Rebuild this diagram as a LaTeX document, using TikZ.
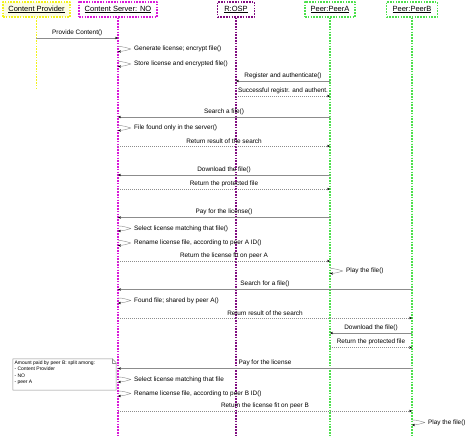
\documentclass[tikz,border=0pt]{standalone}
\usepackage{fontspec}
\setmainfont{Liberation Sans}
\usetikzlibrary{arrows.meta}
\definecolor{cpyellow}{rgb}{0.95,0.95,0.1}
\definecolor{csmagenta}{rgb}{0.85,0.1,0.85}
\definecolor{rospurple}{rgb}{0.5,0.05,0.5}
\definecolor{peergreen}{rgb}{0.3,0.88,0.3}
\definecolor{msggray}{rgb}{0.55,0.55,0.55}

\tikzset{
	actor/.style={draw,line width=1.2pt,line cap=butt,dash pattern=on 1.6pt off 1.2pt,minimum height=15pt,inner sep=1pt,font=\fontsize{7.5}{8}\selectfont},
	lifeline/.style={line width=1.2pt,line cap=butt,dash pattern=on 1.6pt off 1.2pt},
	msg/.style={draw=msggray,line width=0.6pt,-{Stealth[length=3pt,width=2.4pt,black]}},
	ret/.style={msg,line cap=butt,dash pattern=on 1pt off 1pt},
	self/.style={msg,line width=0.4pt},
	lbl/.style={above,inner sep=2pt,font=\fontsize{6.4}{7}\selectfont,text=black},
	slbl/.style={right,inner sep=3pt,font=\fontsize{6.4}{7}\selectfont,text=black},
	notebox/.style={minimum width=103pt,minimum height=31pt,inner sep=0pt},
	notetext/.style={align=left,inner sep=1.5pt,font=\fontsize{5}{6.6}\selectfont}
}

\begin{document}
\begin{tikzpicture}[line cap=round,line join=round,x=1pt,y=-1pt]
	\useasboundingbox (0,0) rectangle (474,443);
	% participants
	\node[actor,draw=cpyellow,fill=cpyellow!12,minimum width=67pt] (cp) at (36.5,9.5) {\underline{Content Provider}};
	\node[actor,draw=csmagenta,minimum width=78pt] (cs) at (118,9.5) {\underline{Content Server: NO}};
	\node[actor,draw=rospurple,minimum width=37pt] (ros) at (236,9.5) {\underline{R:OSP}};
	\node[actor,draw=peergreen,minimum width=50pt] (pa) at (330,9.5) {\underline{Peer:PeerA}};
	\node[actor,draw=peergreen,minimum width=51pt] (pb) at (412,9.5) {\underline{Peer:PeerB}};
	% lifelines
	\draw[lifeline,cpyellow] (cp.south) -- (cp |- 0,88);
	\draw[lifeline,csmagenta] (cs.south) -- (cs |- 0,436);
	\draw[lifeline,rospurple] (ros.south) -- (ros |- 0,436);
	\draw[lifeline,peergreen] (pa.south) -- (pa |- 0,436);
	\draw[lifeline,peergreen] (pb.south) -- (pb |- 0,436);
	% publishing
	\draw[msg] (cp |- 0,38) -- (cs |- 0,38) node[lbl,midway] {Provide Content()};
	\draw[self] (cs |- 0,46.5) to[out=0,in=165] ++(13,2.5) node[slbl] {Generate license; encrypt file()} to[out=195,in=0] ++(-13,2.5);
	\draw[self] (cs |- 0,61.5) to[out=0,in=165] ++(13,2.5) node[slbl] {Store license and encrypted file()} to[out=195,in=0] ++(-13,2.5);
	\draw[msg] (pa |- 0,81) -- (ros |- 0,81) node[lbl,midway] {Register and authenticate()};
	\draw[ret] (ros |- 0,96) -- (pa |- 0,96) node[lbl,midway] {Successful registr. and authent.};
	% peer A buys from the server
	\draw[msg] (pa |- 0,117) -- (cs |- 0,117) node[lbl,midway] {Search a file()};
	\draw[self] (cs |- 0,125.5) to[out=0,in=165] ++(13,2.5) node[slbl] {File found only in the server()} to[out=195,in=0] ++(-13,2.5);
	\draw[ret] (cs |- 0,146) -- (pa |- 0,146) node[lbl,midway] {Return result of the search};
	\draw[msg] (pa |- 0,175) -- (cs |- 0,175) node[lbl,midway] {Download the file()};
	\draw[ret] (cs |- 0,189) -- (pa |- 0,189) node[lbl,midway] {Return the protected file};
	\draw[msg] (pa |- 0,217.5) -- (cs |- 0,217.5) node[lbl,midway] {Pay for the license()};
	\draw[self] (cs |- 0,226) to[out=0,in=165] ++(13,2.5) node[slbl] {Select license matching that file()} to[out=195,in=0] ++(-13,2.5);
	\draw[self] (cs |- 0,240.5) to[out=0,in=165] ++(13,2.5) node[slbl] {Rename license file, according to peer A ID()} to[out=195,in=0] ++(-13,2.5);
	\draw[ret] (cs |- 0,261) -- (pa |- 0,261) node[lbl,midway] {Return the license fit on peer A};
	\draw[self] (pa |- 0,268.5) to[out=0,in=165] ++(13,2.5) node[slbl] {Play the file()} to[out=195,in=0] ++(-13,2.5);
	% peer B buys, file shared by peer A
	\draw[msg] (pb |- 0,289.5) -- (cs |- 0,289.5) node[lbl,midway] {Search for a file()};
	\draw[self] (cs |- 0,298) to[out=0,in=165] ++(13,2.5) node[slbl] {Found file; shared by peer A()} to[out=195,in=0] ++(-13,2.5);
	\draw[ret] (cs |- 0,318) -- (pb |- 0,318) node[lbl,midway] {Return result of the search};
	\draw[msg] (pb |- 0,333) -- (pa |- 0,333) node[lbl,midway] {Download the file()};
	\draw[ret] (pa |- 0,347.5) -- (pb |- 0,347.5) node[lbl,midway] {Return the protected file};
	\draw[msg] (pb |- 0,368.5) -- (cs |- 0,368.5) node[lbl,midway] {Pay for the license};
	\draw[self] (cs |- 0,377) to[out=0,in=165] ++(13,2.5) node[slbl] {Select license matching that file} to[out=195,in=0] ++(-13,2.5);
	\draw[self] (cs |- 0,391) to[out=0,in=165] ++(13,2.5) node[slbl] {Rename license file, according to peer B ID()} to[out=195,in=0] ++(-13,2.5);
	\draw[ret] (cs |- 0,411) -- (pb |- 0,411) node[lbl,midway] {Return the license fit on peer B};
	\draw[self] (pb |- 0,420) to[out=0,in=165] ++(13,2.5) node[slbl] {Play the file()} to[out=195,in=0] ++(-13,2.5);
	% note
	\node[notebox] (note) at (64.5,374.5) {};
	\draw[msggray,line width=0.5pt] (note.north west) -- ([xshift=-4pt]note.north east) -- ([yshift=-4pt]note.north east) -- (note.south east) -- (note.south west) -- cycle;
	\draw[msggray,line width=0.4pt] ([xshift=-4pt]note.north east) -- ([xshift=-4pt,yshift=-4pt]note.north east) -- ([yshift=-4pt]note.north east);
	\node[notetext,anchor=north west] (notetxt) at (note.north west) {Amount paid by peer B: split among:\\- Content Provider\\- NO\\- peer A};
\end{tikzpicture}
\end{document}
